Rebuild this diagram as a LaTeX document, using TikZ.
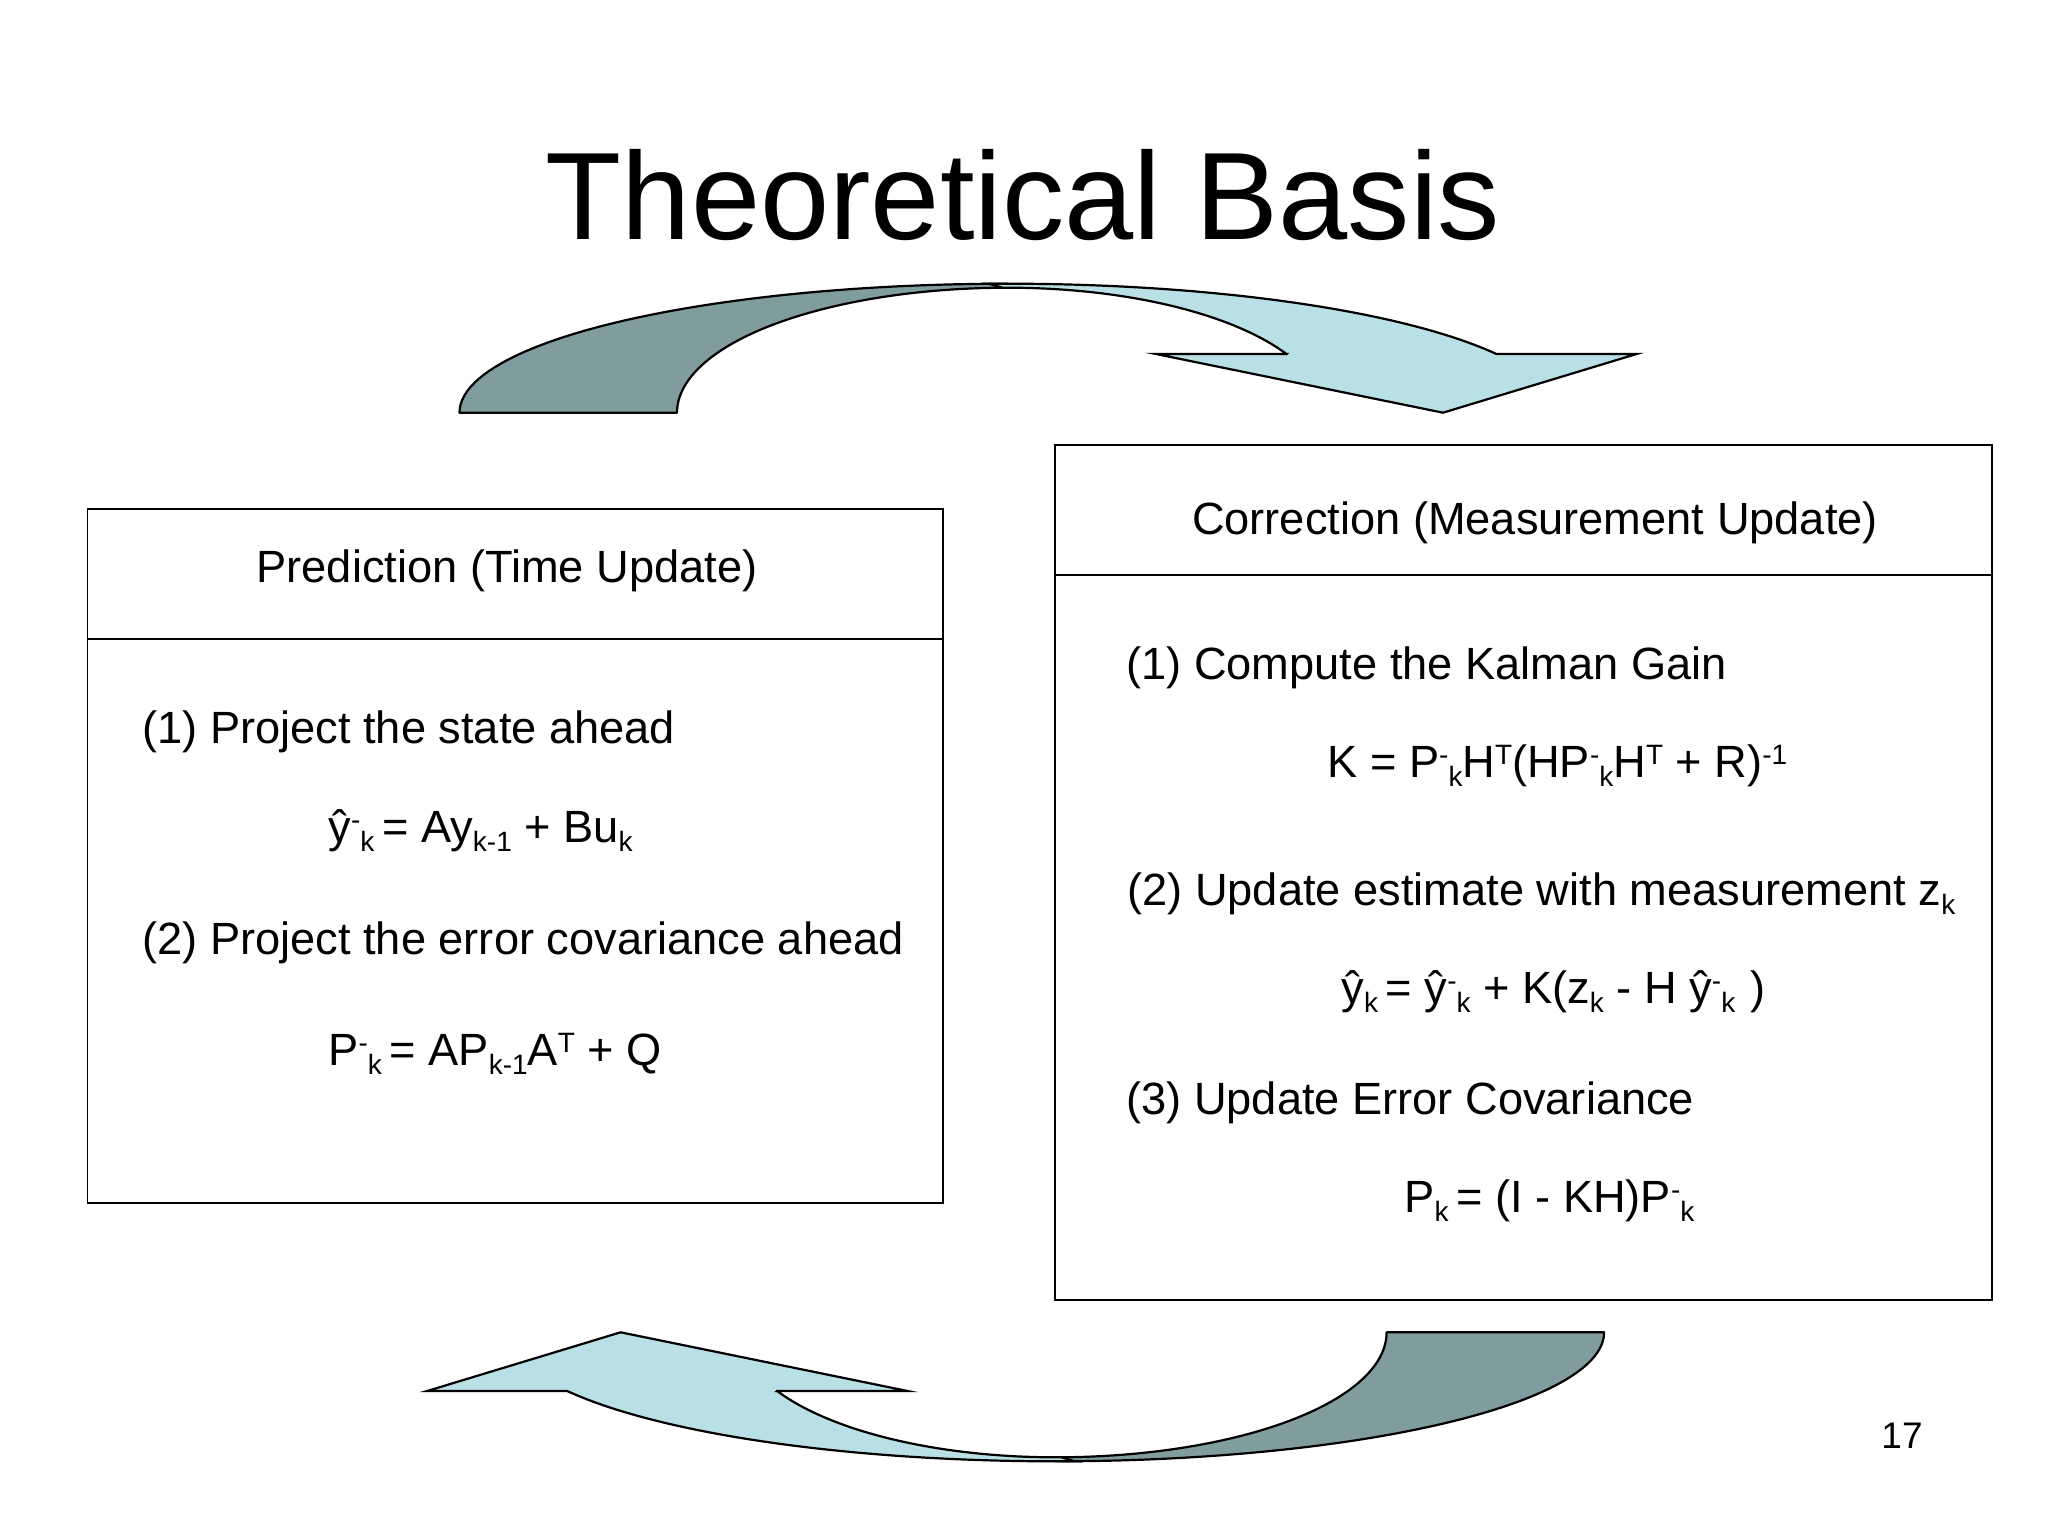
\documentclass[tikz,border=0pt]{standalone}
\usepackage{fontspec}
\setmainfont{Liberation Sans}
\definecolor{darkband}{RGB}{128,156,158}
\definecolor{lightband}{RGB}{185,224,228}
\newcommand\kdn[1]{\raisebox{-0.2em}{\fontsize{14}{14}\selectfont #1}}
\newcommand\kup[1]{\raisebox{0.28em}{\fontsize{14}{14}\selectfont #1}}
\begin{document}
\begin{tikzpicture}[x=0.5pt,y=-0.5pt,
  body/.style={font=\fontsize{22.6}{27}\selectfont, inner sep=0pt, anchor=base west},
  head/.style={font=\fontsize{22.6}{27}\selectfont, inner sep=0pt, anchor=base},
  panel/.style={draw=black, line width=0.75pt},
  bandd/.style={fill=darkband, draw=black, line width=1.1pt, line join=round},
  bandl/.style={fill=lightband, draw=black, line width=1.1pt, line join=miter},
]
\useasboundingbox (0,0) rectangle (2048,1536);
\fill[white] (0,0) rectangle (2048,1536);

% title
\node[font=\fontsize{62.2}{70}\selectfont, inner sep=0pt, anchor=base] (title) at (1023,239) {Theoretical Basis};

% curved arrows (top one, and the same rotated for the bottom)
\newcommand\curvedarrow{%
  \draw[bandd] plot[domain=180:90, samples=80] ({1008+548.5*cos(\x)},{412.7-129*sin(\x)})
     -- plot[domain=90:180, samples=80] ({1008+331*cos(\x)},{412.7-125*sin(\x)}) -- cycle;
  \draw[bandl] plot[domain=92:27.07, samples=80] ({1008+548.5*cos(\x)},{412.7-129*sin(\x)})
     -- (1636.5,354) -- (1443,412.7) -- (1156,354) -- (1286.5,354)
     -- plot[domain=28:91, samples=80] ({1008+315.4*cos(\x)},{412.7-125*sin(\x)}) -- cycle;
}
\curvedarrow
\begin{scope}[rotate around={180:(1031.8,872.5)}]
\curvedarrow
\end{scope}

% prediction panel
\draw[panel] (87.5,509) rectangle (943,1203);
\draw[panel] (87.5,639) -- (943,639);
\node[head] (phead) at (507,582) {Prediction (Time Update)};
\node[body] (p1) at (142,743) {(1) Project the state ahead};
\node[body] (pf1) at (328,842) {ŷ\kup{-}\kdn{k }= Ay\kdn{k-1} + Bu\kdn{k}};
\node[body] (p2) at (142,954) {(2) Project the error covariance ahead};
\node[body] (pf2) at (328,1065) {P\kup{-}\kdn{k }= AP\kdn{k-1}A\kup{T} + Q};

% correction panel
\draw[panel] (1055,445) rectangle (1992,1300);
\draw[panel] (1055,575) -- (1992,575);
\node[head] (chead) at (1535,534) {Correction (Measurement Update)};
\node[body] (c1) at (1126,679) {(1) Compute the Kalman Gain};
\node[body] (cf1) at (1327,777) {K = P\kup{-}\kdn{k}H\kup{T}(HP\kup{-}\kdn{k}H\kup{T} + R)\kup{-1}};
\node[body] (c2) at (1127,905) {(2) Update estimate with measurement z\kdn{k}};
\node[body] (cf2) at (1341,1003) {ŷ\kdn{k }= ŷ\kup{-}\kdn{k} + K(z\kdn{k} - H ŷ\kup{-}\kdn{k }\,)};
\node[body] (c3) at (1126,1114) {(3) Update Error Covariance};
\node[body] (cf3) at (1404,1212) {P\kdn{k }= (I - KH)P\kup{-}\kdn{k}};

% page number
\node[font=\fontsize{18.5}{20}\selectfont, inner sep=0pt, anchor=base east] (pageno) at (1923,1448) {17};
\end{tikzpicture}
\end{document}
